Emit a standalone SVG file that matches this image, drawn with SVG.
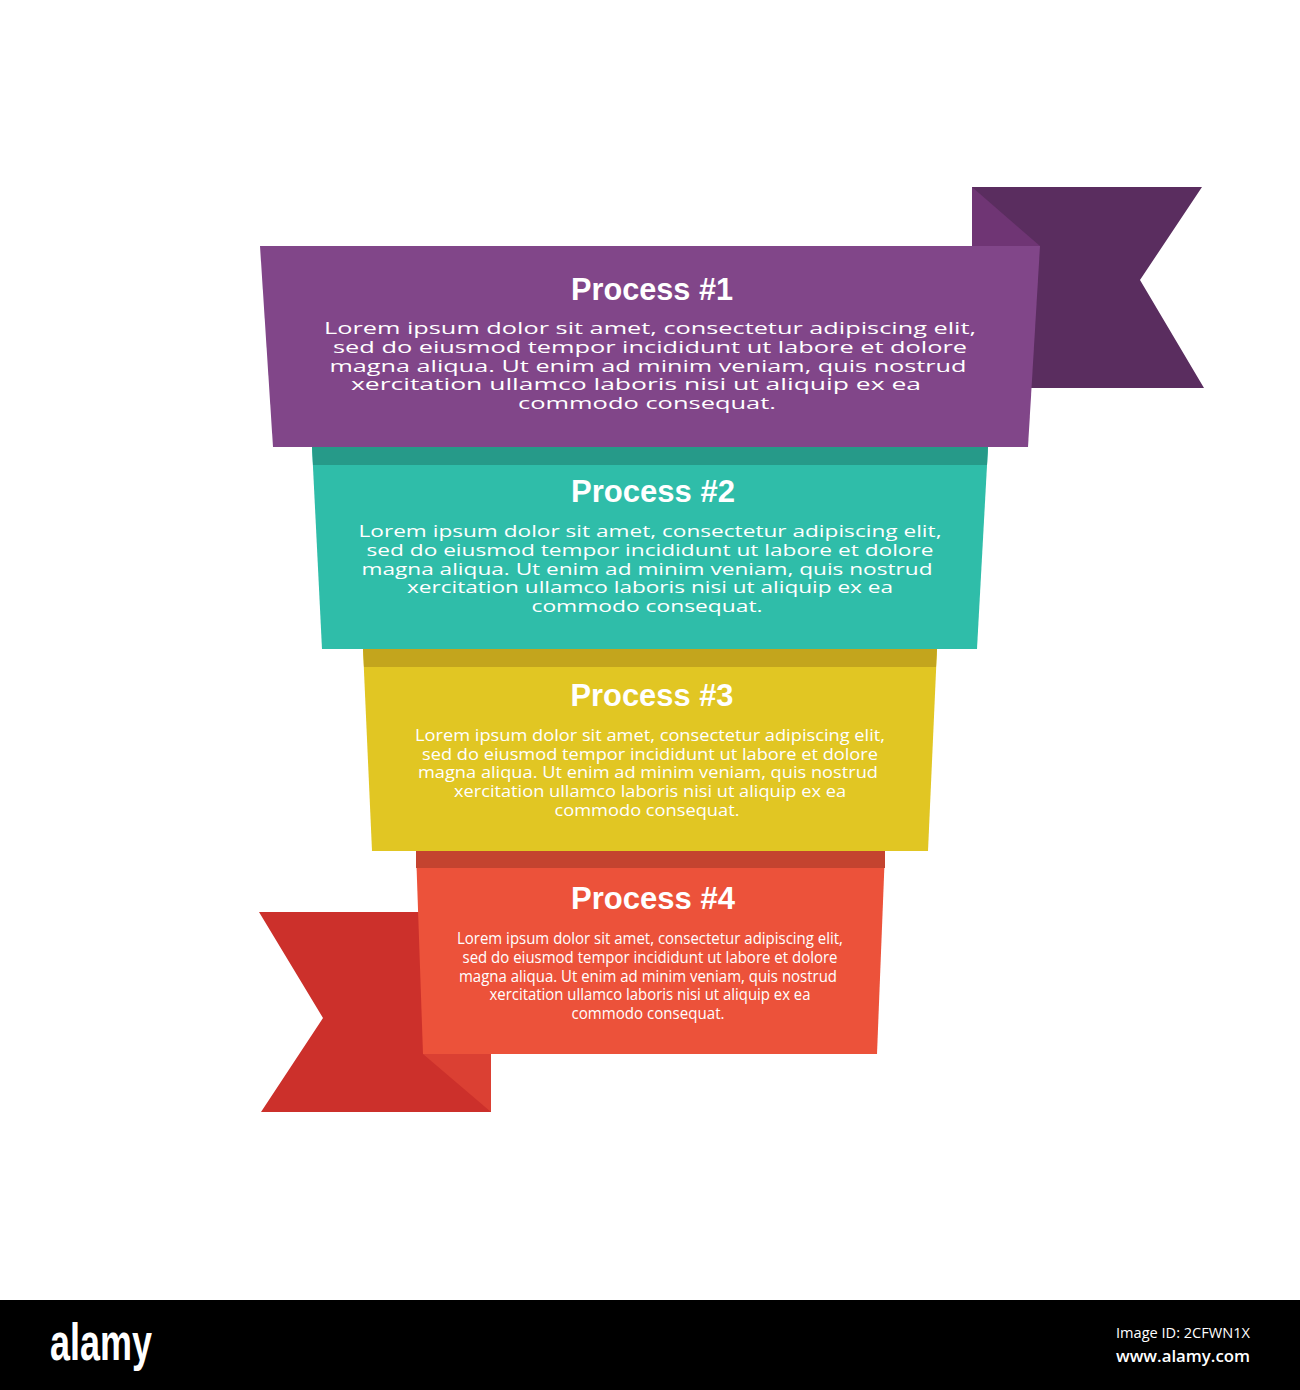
<svg xmlns="http://www.w3.org/2000/svg" width="1300" height="1390" viewBox="0 0 1300 1390">
  <style>
    .title { font-family: "Liberation Sans", Arial, sans-serif; font-weight: bold; font-size: 31px; fill: #ffffff; text-anchor: middle; }
    .body { font-family: "Open Sans", "Noto Sans", sans-serif; font-size: 15.5px; fill: #ffffff; text-anchor: middle; }
    .foot { font-family: "Open Sans", "Liberation Sans", sans-serif; fill: #ffffff; }
  </style>
  <rect x="0" y="0" width="1300" height="1390" fill="#ffffff"/>

  <!-- Top-right ribbon -->
  <g id="ribbon-top">
    <polygon points="972,187 1202,187 1140,280 1204,388 1000,388 972,246" fill="#5A2D5F"/>
    <polygon points="972,187 1040,246 972,246" fill="#6F3574"/>
  </g>

  <!-- Bottom-left ribbon -->
  <g id="ribbon-bottom">
    <polygon points="259,912 430,912 491,1054 491,1112 261,1112 323,1018" fill="#CC302B"/>
    <polygon points="423,1054 491,1054 491,1112" fill="#DB4033"/>
  </g>

  <!-- Process 1 -->
  <g id="process-1">
    <polygon points="260,246 1040,246 1028,447 273,447" fill="#814689"/>
    <text class="title" x="652" y="300" textLength="162" lengthAdjust="spacingAndGlyphs">Process #1</text>
    <text class="body" x="650" y="334" textLength="652" lengthAdjust="spacingAndGlyphs">Lorem ipsum dolor sit amet, consectetur adipiscing elit,</text>
    <text class="body" x="650" y="353" textLength="634" lengthAdjust="spacingAndGlyphs">sed do eiusmod tempor incididunt ut labore et dolore</text>
    <text class="body" x="648" y="372" textLength="637" lengthAdjust="spacingAndGlyphs">magna aliqua. Ut enim ad minim veniam, quis nostrud</text>
    <text class="body" x="636" y="390" textLength="570" lengthAdjust="spacingAndGlyphs">xercitation ullamco laboris nisi ut aliquip ex ea</text>
    <text class="body" x="647" y="409" textLength="258" lengthAdjust="spacingAndGlyphs">commodo consequat.</text>
  </g>

  <!-- Process 2 -->
  <g id="process-2">
    <polygon points="312,447 988,447 977,649 322,649" fill="#2FBDA9"/>
    <polygon points="312,447 988,447 987,465 313,465" fill="#269A89"/>
    <text class="title" x="653" y="502" textLength="164" lengthAdjust="spacingAndGlyphs">Process #2</text>
    <text class="body" x="650" y="537" textLength="583" lengthAdjust="spacingAndGlyphs">Lorem ipsum dolor sit amet, consectetur adipiscing elit,</text>
    <text class="body" x="650" y="556" textLength="567" lengthAdjust="spacingAndGlyphs">sed do eiusmod tempor incididunt ut labore et dolore</text>
    <text class="body" x="647" y="575" textLength="571" lengthAdjust="spacingAndGlyphs">magna aliqua. Ut enim ad minim veniam, quis nostrud</text>
    <text class="body" x="650" y="593" textLength="486" lengthAdjust="spacingAndGlyphs">xercitation ullamco laboris nisi ut aliquip ex ea</text>
    <text class="body" x="647" y="612" textLength="231" lengthAdjust="spacingAndGlyphs">commodo consequat.</text>
  </g>

  <!-- Process 3 -->
  <g id="process-3">
    <polygon points="363,649 937,649 928,851 372,851" fill="#E1C623"/>
    <polygon points="363,649 937,649 936,667 364,667" fill="#C3A51D"/>
    <text class="title" x="652" y="706" textLength="163" lengthAdjust="spacingAndGlyphs">Process #3</text>
    <text class="body" x="650" y="741" textLength="470" lengthAdjust="spacingAndGlyphs">Lorem ipsum dolor sit amet, consectetur adipiscing elit,</text>
    <text class="body" x="650" y="760" textLength="456" lengthAdjust="spacingAndGlyphs">sed do eiusmod tempor incididunt ut labore et dolore</text>
    <text class="body" x="648" y="778" textLength="460" lengthAdjust="spacingAndGlyphs">magna aliqua. Ut enim ad minim veniam, quis nostrud</text>
    <text class="body" x="650" y="797" textLength="392" lengthAdjust="spacingAndGlyphs">xercitation ullamco laboris nisi ut aliquip ex ea</text>
    <text class="body" x="647" y="816" textLength="185" lengthAdjust="spacingAndGlyphs">commodo consequat.</text>
  </g>

  <!-- Process 4 -->
  <g id="process-4">
    <polygon points="416,851 885,851 877,1054 423,1054" fill="#EC523A"/>
    <polygon points="416,851 885,851 885,868 416,868" fill="#C4432F"/>
    <text class="title" x="653" y="909" textLength="164" lengthAdjust="spacingAndGlyphs">Process #4</text>
    <text class="body" x="650" y="944" textLength="386" lengthAdjust="spacingAndGlyphs">Lorem ipsum dolor sit amet, consectetur adipiscing elit,</text>
    <text class="body" x="650" y="963" textLength="375" lengthAdjust="spacingAndGlyphs">sed do eiusmod tempor incididunt ut labore et dolore</text>
    <text class="body" x="648" y="982" textLength="378" lengthAdjust="spacingAndGlyphs">magna aliqua. Ut enim ad minim veniam, quis nostrud</text>
    <text class="body" x="650" y="1000" textLength="321" lengthAdjust="spacingAndGlyphs">xercitation ullamco laboris nisi ut aliquip ex ea</text>
    <text class="body" x="648" y="1019" textLength="153" lengthAdjust="spacingAndGlyphs">commodo consequat.</text>
  </g>

  <g id="connectors"></g>

  <!-- Footer bar -->
  <g id="footer">
    <rect x="0" y="1300" width="1300" height="90" fill="#000000"/>
    <text x="50" y="1360" font-family="'Liberation Sans Narrow', 'Liberation Sans', sans-serif" font-weight="bold" font-size="52" fill="#ffffff" textLength="102" lengthAdjust="spacingAndGlyphs">alamy</text>
    <text class="foot" x="1116" y="1338" font-size="14" textLength="134" lengthAdjust="spacingAndGlyphs">Image ID: 2CFWN1X</text>
    <text class="foot" x="1116" y="1362" font-size="17" font-weight="600" textLength="134" lengthAdjust="spacingAndGlyphs">www.alamy.com</text>
  </g>
</svg>
